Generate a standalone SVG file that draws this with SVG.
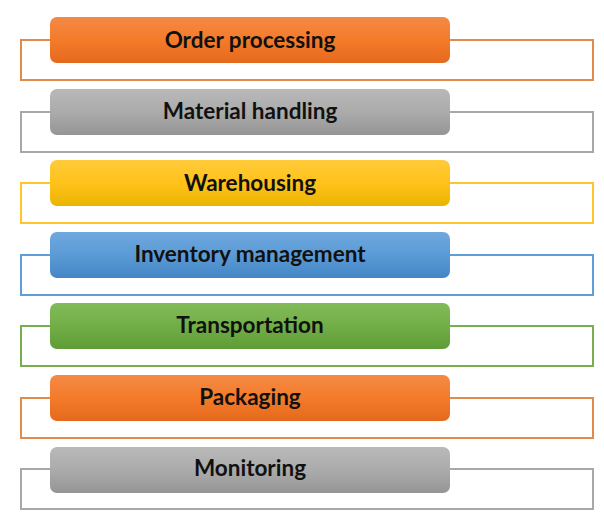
<svg xmlns="http://www.w3.org/2000/svg" width="604" height="520" viewBox="0 0 604 520">
<style>
.frame{fill:none;stroke-width:2}
.bar{stroke:none}
.lbl{font-family:Lato,"Open Sans","Liberation Sans",sans-serif;font-weight:bold;font-size:22.5px;fill:#111;text-anchor:middle}
</style>
<defs>
<linearGradient id="gOr" x1="0" y1="0" x2="0" y2="1"><stop offset="0" stop-color="#F48A45"/><stop offset="0.5" stop-color="#F47B2A"/><stop offset="1" stop-color="#E5691D"/></linearGradient>
<linearGradient id="gGr" x1="0" y1="0" x2="0" y2="1"><stop offset="0" stop-color="#B9B9B9"/><stop offset="0.5" stop-color="#ABABAB"/><stop offset="1" stop-color="#959595"/></linearGradient>
<linearGradient id="gYe" x1="0" y1="0" x2="0" y2="1"><stop offset="0" stop-color="#FFCB3A"/><stop offset="0.5" stop-color="#FFC21A"/><stop offset="1" stop-color="#EAB400"/></linearGradient>
<linearGradient id="gBl" x1="0" y1="0" x2="0" y2="1"><stop offset="0" stop-color="#6FA8DE"/><stop offset="0.5" stop-color="#5B9BD5"/><stop offset="1" stop-color="#4485C6"/></linearGradient>
<linearGradient id="gGn" x1="0" y1="0" x2="0" y2="1"><stop offset="0" stop-color="#82BB58"/><stop offset="0.5" stop-color="#72AE47"/><stop offset="1" stop-color="#5F9C36"/></linearGradient>
</defs>
<g id="n1">
<rect class="frame" x="21" y="40" width="572" height="40" stroke="#E08B4C"/>
<rect class="bar" x="50" y="17" width="400" height="46" rx="7" fill="url(#gOr)"/>
<text class="lbl" x="250" y="48">Order processing</text>
</g>
<g id="n2">
<rect class="frame" x="21" y="112" width="572" height="40" stroke="#A8A8A8"/>
<rect class="bar" x="50" y="89" width="400" height="46" rx="7" fill="url(#gGr)"/>
<text class="lbl" x="250" y="119">Material handling</text>
</g>
<g id="n3">
<rect class="frame" x="21" y="183" width="572" height="40" stroke="#FFC52A"/>
<rect class="bar" x="50" y="160" width="400" height="46" rx="7" fill="url(#gYe)"/>
<text class="lbl" x="250" y="191">Warehousing</text>
</g>
<g id="n4">
<rect class="frame" x="21" y="255" width="572" height="40" stroke="#5F9ED6"/>
<rect class="bar" x="50" y="232" width="400" height="46" rx="7" fill="url(#gBl)"/>
<text class="lbl" x="250" y="262">Inventory management</text>
</g>
<g id="n5">
<rect class="frame" x="21" y="326" width="572" height="40" stroke="#77AF50"/>
<rect class="bar" x="50" y="303" width="400" height="46" rx="7" fill="url(#gGn)"/>
<text class="lbl" x="250" y="333">Transportation</text>
</g>
<g id="n6">
<rect class="frame" x="21" y="398" width="572" height="40" stroke="#E08B4C"/>
<rect class="bar" x="50" y="375" width="400" height="46" rx="7" fill="url(#gOr)"/>
<text class="lbl" x="250" y="405">Packaging</text>
</g>
<g id="n7">
<rect class="frame" x="21" y="469" width="572" height="40" stroke="#A8A8A8"/>
<rect class="bar" x="50" y="447" width="400" height="46" rx="7" fill="url(#gGr)"/>
<text class="lbl" x="250" y="476">Monitoring</text>
</g>
<g id="connectors"></g>
</svg>
